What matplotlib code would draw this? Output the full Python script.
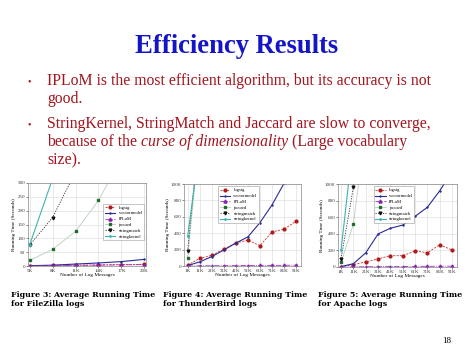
import matplotlib
matplotlib.use("Agg")
import matplotlib.pyplot as plt
import numpy as np

# ---------------- data ----------------
title = "Efficiency Results"
bullet1 = ["IPLoM is the most efficient algorithm, but its accuracy is not", "good."]
bullet2_l1 = "StringKernel, StringMatch and Jaccard are slow to converge,"
bullet2_l2a = "because of the "
bullet2_l2b = "curse of dimensionality"
bullet2_l2c = " (Large vocabulary"
bullet2_l3 = "size)."

series_names = ["logsig", "vectormodel", "IPLoM", "jaccard", "stringmatch", "stringkernel"]

# FileZilla (x in thousands of messages)
fz_x = [5, 8, 11, 14, 17, 20]
fz_xticklabels = ["5K", "8K", "11K", "14K", "17K", "20K"]
fz_logsig = [1, 2, 3, 4, 5, 6]
fz_vector = [1, 3, 7, 11, 16, 24]
fz_iplom = [0.5, 1, 2, 3, 4, 5]
fz_jaccard = [20, 60, 125, 237, 390, 600]
fz_stringmatch = [75, 175, 340, 560, 850, 1200]
fz_stringkernel = [75, 315, 800, 1500, 2500, 4000]

# ThunderBird
tb_x = [1, 11, 21, 31, 41, 51, 61, 71, 81, 91]
tb_xticklabels = ["1K", "11K", "21K", "31K", "41K", "51K", "61K", "71K", "81K", "91K"]
tb_logsig = [10, 92, 130, 205, 282, 314, 249, 416, 449, 547]
tb_vector = [5, 50, 115, 195, 280, 355, 530, 745, 1010, 1300]
tb_iplom = [1, 2, 3, 4, 5, 6, 7, 8, 9, 10]
tb_slow_x = [1, 11]
tb_jaccard = [100, 1600]
tb_stringmatch = [180, 1700]
tb_stringkernel = [360, 1450]

# Apache
ap_x = [1, 11, 21, 31, 41, 51, 61, 71, 81, 91]
ap_xticklabels = ["1K", "11K", "21K", "31K", "41K", "51K", "61K", "71K", "81K", "91K"]
ap_logsig = [5, 30, 61, 98, 136, 136, 192, 172, 268, 205]
ap_vector = [5, 40, 171, 398, 467, 505, 610, 720, 918, 1150]
ap_iplom = [1, 2, 3, 4, 5, 6, 7, 8, 9, 10]
ap_slow_x = [1, 11, 21]
ap_jaccard = [61, 516, 1700]
ap_stringmatch = [102, 963, 2500]
ap_stringkernel = [207, 1530, 3000]

captions = [("Figure 3: Average Running Time", "for FileZilla logs"),
            ("Figure 4: Average Running Time", "for ThunderBird logs"),
            ("Figure 5: Average Running Time", "for Apache logs")]

# ---------------- styles ----------------
W, H = 474, 355
fig = plt.figure(figsize=(W / 100, H / 100), dpi=100)
fig.patch.set_facecolor("white")

SERIF = "Liberation Serif"
styles = {
    "logsig": dict(color="#d42a2a", ls=(0, (2.5, 1.5)), marker="o", ms=2.0, mfc="#b01818", mec="#b01818", lw=0.6),
    "vectormodel": dict(color="#2b2b96", ls="-", marker="+", ms=1.6, mfc="#2b2b96", mec="#2b2b96", lw=0.8),
    "IPLoM": dict(color="#9a30c0", ls="-.", marker="^", ms=2.2, mfc="#8a20b0", mec="#8a20b0", lw=0.6),
    "jaccard": dict(color="#b8cfb8", ls="-", marker="s", ms=2.0, mfc="#1f6b2a", mec="#1f6b2a", lw=0.6),
    "stringmatch": dict(color="#333333", ls=(0, (1.5, 1.5)), marker="v", ms=2.0, mfc="#111111", mec="#111111", lw=0.6),
    "stringkernel": dict(color="#3fb3b3", ls="-", marker="o", ms=1.0, mfc="#3fb3b3", mec="#3fb3b3", lw=0.8),
}


def px_axes(x0, y0, x1, y1):
    return fig.add_axes([x0 / W, (H - y1) / H, (x1 - x0) / W, (y1 - y0) / H])


def style_axes(ax, xticks, xlabels, yticks, ylim, xlim):
    ax.set_xlim(*xlim)
    ax.set_ylim(*ylim)
    ax.set_xticks(xticks)
    ax.set_xticklabels(xlabels, fontsize=3.6, family=SERIF)
    ax.set_yticks(yticks)
    ax.set_yticklabels([str(v) for v in yticks], fontsize=3.6, family=SERIF)
    ax.tick_params(length=1.2, width=0.4, pad=0.8, colors="#333333")
    ax.grid(True, color="#d9d9d9", lw=0.4)
    ax.set_axisbelow(True)
    for s in ax.spines.values():
        s.set_color("#888888")
        s.set_linewidth(0.5)
    ax.set_xlabel("Number of Log Messages", fontsize=3.8, family=SERIF, labelpad=0.5)
    ax.set_ylabel("Running Time (Seconds)", fontsize=3.8, family=SERIF, labelpad=0.8)


def plot_set(ax, data, legend_kw):
    for name, (xs, ys) in zip(series_names, data):
        ax.plot(xs, ys, label=name, clip_on=True, **styles[name])
    leg = ax.legend(prop={"family": SERIF, "size": 3.3}, handlelength=2.2, handletextpad=0.8,
                    borderpad=0.4, labelspacing=0.35, fancybox=False, framealpha=1,
                    edgecolor="#999999", **legend_kw)
    leg.get_frame().set_linewidth(0.4)


# Chart 1: FileZilla
ax1 = px_axes(28, 183, 146, 266)
plot_set(ax1, [(fz_x, fz_logsig), (fz_x, fz_vector), (fz_x, fz_iplom), (fz_x, fz_jaccard),
               (fz_x, fz_stringmatch), (fz_x, fz_stringkernel)],
         dict(loc="upper right", bbox_to_anchor=(1.0, 0.78)))
style_axes(ax1, fz_x, fz_xticklabels, list(range(0, 301, 50)), (0, 300), (4.8, 20.2))

# Chart 2: ThunderBird
ax2 = px_axes(184, 184, 301, 266)
plot_set(ax2, [(tb_x, tb_logsig), (tb_x, tb_vector), (tb_x, tb_iplom), (tb_slow_x, tb_jaccard),
               (tb_slow_x, tb_stringmatch), (tb_slow_x, tb_stringkernel)],
         dict(loc="upper left", bbox_to_anchor=(0.27, 1.0)))
style_axes(ax2, tb_x, tb_xticklabels, list(range(0, 1001, 200)), (0, 1000), (-2, 95))

# Chart 3: Apache
ax3 = px_axes(338, 184, 457, 267)
plot_set(ax3, [(ap_x, ap_logsig), (ap_x, ap_vector), (ap_x, ap_iplom), (ap_slow_x, ap_jaccard),
               (ap_slow_x, ap_stringmatch), (ap_slow_x, ap_stringkernel)],
         dict(loc="upper left", bbox_to_anchor=(0.28, 1.0)))
style_axes(ax3, ap_x, ap_xticklabels, list(range(0, 1001, 200)), (0, 1000), (-1.5, 95))

# ---------------- slide text ----------------
def fy(y):
    return 1 - y / H


def fx(x):
    return x / W


fig.text(0.5, fy(53), title, ha="center", va="baseline", fontsize=19.2, fontweight="bold",
         family=SERIF, color="#1515c8")

RED = "#a3141e"
BFS = 11.3
for by in (85, 128):
    fig.text(fx(28), fy(by - 1), "\u2022", fontsize=7, family=SERIF, color=RED, va="baseline")
fig.text(fx(47), fy(85), bullet1[0], fontsize=BFS, family=SERIF, color=RED, va="baseline")
fig.text(fx(47), fy(103), bullet1[1], fontsize=BFS, family=SERIF, color=RED, va="baseline")
fig.text(fx(47), fy(128), bullet2_l1, fontsize=BFS, family=SERIF, color=RED, va="baseline")
t_a = fig.text(fx(47), fy(146), bullet2_l2a, fontsize=BFS, family=SERIF, color=RED, va="baseline")
t_b = fig.text(0, 0, bullet2_l2b, fontsize=BFS, family=SERIF, style="italic", color=RED)
t_c = fig.text(0, 0, bullet2_l2c, fontsize=BFS, family=SERIF, color=RED)
fig.text(fx(47), fy(164), bullet2_l3, fontsize=BFS, family=SERIF, color=RED, va="baseline")

# position the mixed-style pieces next to each other
fig.canvas.draw()
r = fig.canvas.get_renderer()
bb_a = t_a.get_window_extent(r)
t_b.set_position((bb_a.x1 / fig.bbox.width, fy(146)))
t_b.set_va("baseline")
fig.canvas.draw()
bb_b = t_b.get_window_extent(r)
t_c.set_position((bb_b.x1 / fig.bbox.width, fy(146)))
t_c.set_va("baseline")

cap_x = [11, 163, 318]
for (l1, l2), cx in zip(captions, cap_x):
    fig.text(fx(cx), fy(297), l1, fontsize=5.7, fontweight="bold", family="DejaVu Serif", va="baseline")
    fig.text(fx(cx), fy(306), l2, fontsize=5.7, fontweight="bold", family="DejaVu Serif", va="baseline")

fig.text(fx(442), fy(343), "18", fontsize=6.5, family=SERIF, va="baseline")

fig.savefig("out.png", dpi=100)
